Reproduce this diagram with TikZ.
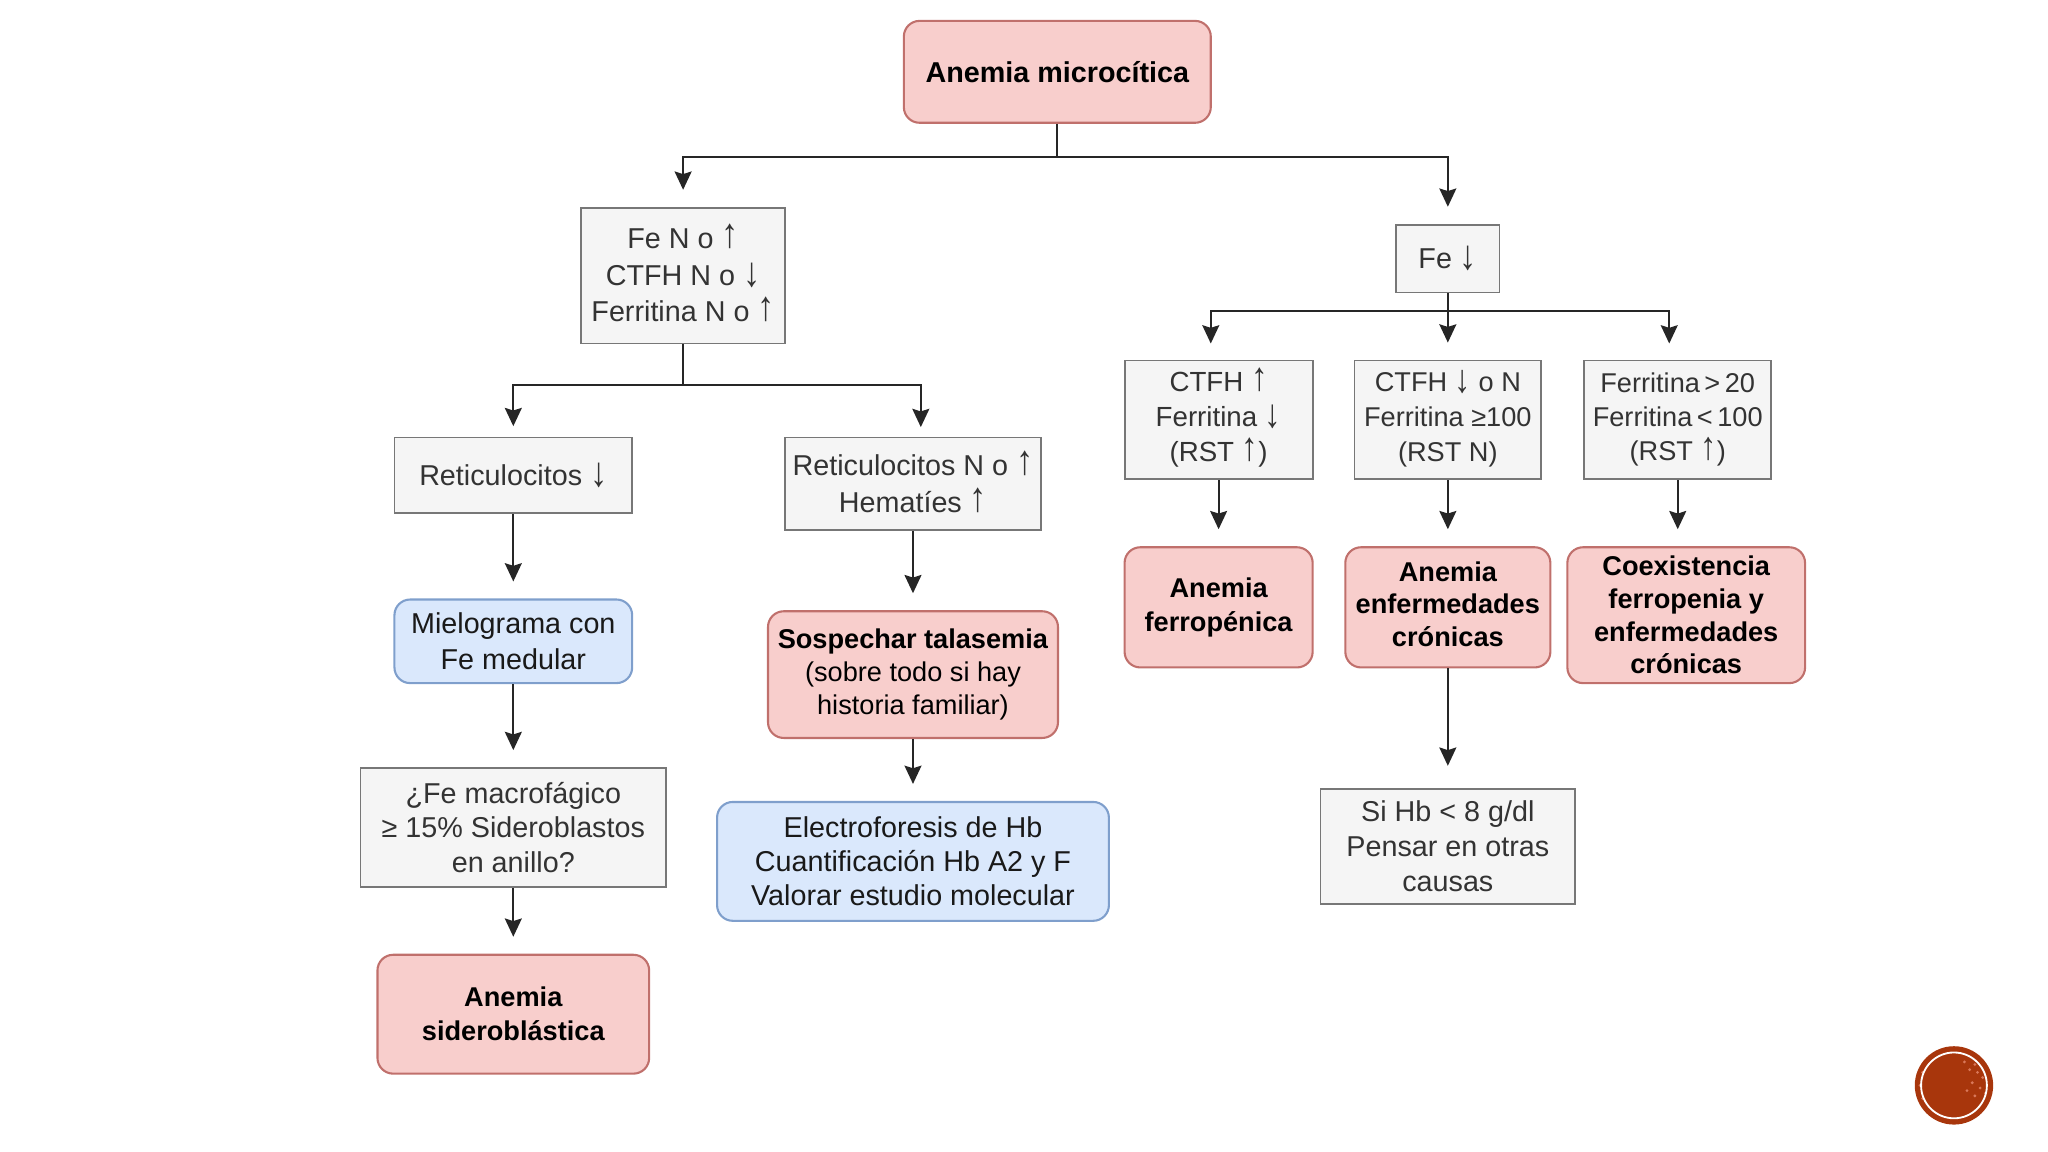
\documentclass[tikz,border=0pt]{standalone}
\usepackage{fontspec}
\setmainfont{Liberation Sans}
\usetikzlibrary{arrows.meta}

\definecolor{redfill}{HTML}{F8CECC}
\definecolor{redline}{HTML}{C0706C}
\definecolor{bluefill}{HTML}{DAE8FC}
\definecolor{blueline}{HTML}{7F9FCC}
\definecolor{greyfill}{HTML}{F5F5F5}
\definecolor{greyline}{HTML}{777777}
\definecolor{greytext}{HTML}{333333}
\definecolor{badgered}{HTML}{A8360C}
\definecolor{badgespot}{HTML}{D9785A}

\newcommand{\arrup}{\smash{\raisebox{0.4pt}{\scalebox{1.2}[1.45]{↑}}}}
\newcommand{\arrdown}{\smash{\raisebox{-0.4pt}{\scalebox{1.2}[1.45]{↓}}}}

\tikzset{
  redbox/.style={draw=redline, fill=redfill, rounded corners=6pt, line width=0.8pt, align=center, inner sep=0pt,
    font=\fontsize{10.4}{#1}\selectfont\bfseries},
  redbox/.default=12.5,
  bluebox/.style={draw=blueline, fill=bluefill, rounded corners=6pt, line width=0.8pt, align=center, inner sep=0pt,
    text=black!90, font=\fontsize{11}{#1}\selectfont},
  bluebox/.default=13,
  greybox/.style={draw=greyline, fill=greyfill, line width=0.7pt, align=center, inner sep=0pt,
    text=greytext, font=\fontsize{11}{#1}\selectfont},
  greybox/.default=14,
  link/.style={line width=0.75pt, black!85},
  conn/.style={link, -{Stealth[length=7pt,width=6.5pt,inset=1pt]}, shorten >=6.5pt},
}

\begin{document}
\begin{tikzpicture}[x=0.5pt, y=-0.5pt]

\useasboundingbox (0,0) rectangle (1568,882);

% top
\node[redbox, minimum width=117.5pt, minimum height=39pt, font=\fontsize{11}{12.5}\selectfont\bfseries] (root) at (809.5,55) {Anemia microcítica};

% left branch
\node[greybox, minimum width=78pt, minimum height=52pt] (feup) at (523,211) {Fe N o \arrup\\CTFH N o \arrdown\\Ferritina N o \arrup};
\node[greybox, minimum width=91pt, minimum height=29pt] (retidown) at (393,364) {Reticulocitos \arrdown};
\node[greybox, minimum width=98pt, minimum height=35.5pt] (retiup) at (699,370.5) {Reticulocitos N o \arrup\\Hematíes \arrup};
\node[bluebox=13.5, minimum width=91pt, minimum height=32pt] (mielo) at (393,491) {Mielograma con\\Fe medular};
\node[greybox=13.2, minimum width=117pt, minimum height=45.5pt] (macro) at (393,633.5) {¿Fe macrofágico\\≥ 15\% Sideroblastos\\en anillo?};
\node[redbox=13, minimum width=104pt, minimum height=45.5pt] (sidero) at (393,776.5) {Anemia\\sideroblástica};
\node[redbox, minimum width=111pt, minimum height=48.5pt, font=\fontsize{10.4}{12.5}\selectfont] (talas) at (699,516.5) {\textbf{Sospechar talasemia}\\(sobre todo si hay\\historia familiar)};
\node[bluebox, minimum width=150pt, minimum height=45.5pt] (electro) at (699,659.5) {Electroforesis de Hb\\Cuantificación Hb A2 y F\\Valorar estudio molecular};

% right branch
\node[greybox, minimum width=39.5pt, minimum height=26pt] (fedown) at (1108.5,198) {Fe \arrdown};
\node[greybox, minimum width=72pt, minimum height=45.5pt, font=\fontsize{10.6}{13.5}\selectfont] (ctfhup) at (933,321.5) {CTFH \arrup\\Ferritina \arrdown\\(RST \arrup)};
\node[greybox, minimum width=71.5pt, minimum height=45.5pt, font=\fontsize{10.4}{13.5}\selectfont] (ctfhdown) at (1108.5,321.5) {CTFH \arrdown{} o N\\Ferritina ≥100\\(RST N)};
\node[greybox, minimum width=71.5pt, minimum height=45.5pt, font=\fontsize{10.4}{13}\selectfont] (ferrmix) at (1284.5,321.5) {Ferritina\,>\,20\\Ferritina\,<\,100\\(RST \arrup)};
\node[redbox=13, minimum width=72pt, minimum height=46pt] (ferrop) at (933,465) {Anemia\\ferropénica};
\node[redbox, minimum width=78.5pt, minimum height=46pt, text depth=2.5pt] (cronic) at (1108.5,465) {Anemia\\enfermedades\\crónicas};
\node[redbox, minimum width=91pt, minimum height=52pt] (coexist) at (1291,471) {Coexistencia\\ferropenia y\\enfermedades\\crónicas};
\node[greybox=13.3, minimum width=97.5pt, minimum height=44pt] (otras) at (1108.5,648) {Si Hb < 8 g/dl\\Pensar en otras\\causas};

% splits
\coordinate (rootsplit) at (809.5,120);
\coordinate (feupsplit) at (523,295);
\coordinate (fedownsplit) at (1108.5,238);
\coordinate (retiupin) at (705,335);
\coordinate (ctfhupin) at (927,276);
\coordinate (ferrmixin) at (1278,276);

\draw[link] (root.south) -- (rootsplit);
\draw[conn] (rootsplit) -| (feup.north);
\draw[conn] (rootsplit) -| (fedown.north);

\draw[link] (feup.south) -- (feupsplit);
\draw[conn, shorten >=4pt] (feupsplit) -| (retidown.north);
\draw[conn, shorten >=4pt] (feupsplit) -| (retiupin);

\draw[conn] (retidown) -- (mielo);
\draw[conn] (mielo) -- (macro);
\draw[conn] (macro) -- (sidero);
\draw[conn] (retiup) -- (talas);
\draw[conn] (talas) -- (electro);

\draw[link] (fedown.south) -- (fedownsplit);
\draw[conn] (fedownsplit) -| (ctfhupin);
\draw[conn] (fedownsplit) -- (ctfhdown.north);
\draw[conn] (fedownsplit) -| (ferrmixin);

\draw[conn] (ctfhup) -- (ferrop);
\draw[conn] (ctfhdown) -- (cronic);
\draw[conn] (ferrmix.south) -- (ferrmix.south |- coexist.north);
\draw[conn, shorten >=8.5pt] (cronic) -- (otras);

% corner badge
\node[circle, fill=badgered, minimum size=30pt, inner sep=0pt] (badge) at (1496,831) {};
\foreach \dx/\dy in {8/-4,10/-1,7/1,11/3,9/5,6/6,12/-3,5/-2,8/8,4/9,-12/-5,-13/0,-12/5}
  \fill[badgespot] ([xshift=\dx pt, yshift=\dy pt]badge.center) circle (0.6pt);
\draw[white, line width=0.7pt] (badge.center) circle (12.6pt);

\end{tikzpicture}
\end{document}
